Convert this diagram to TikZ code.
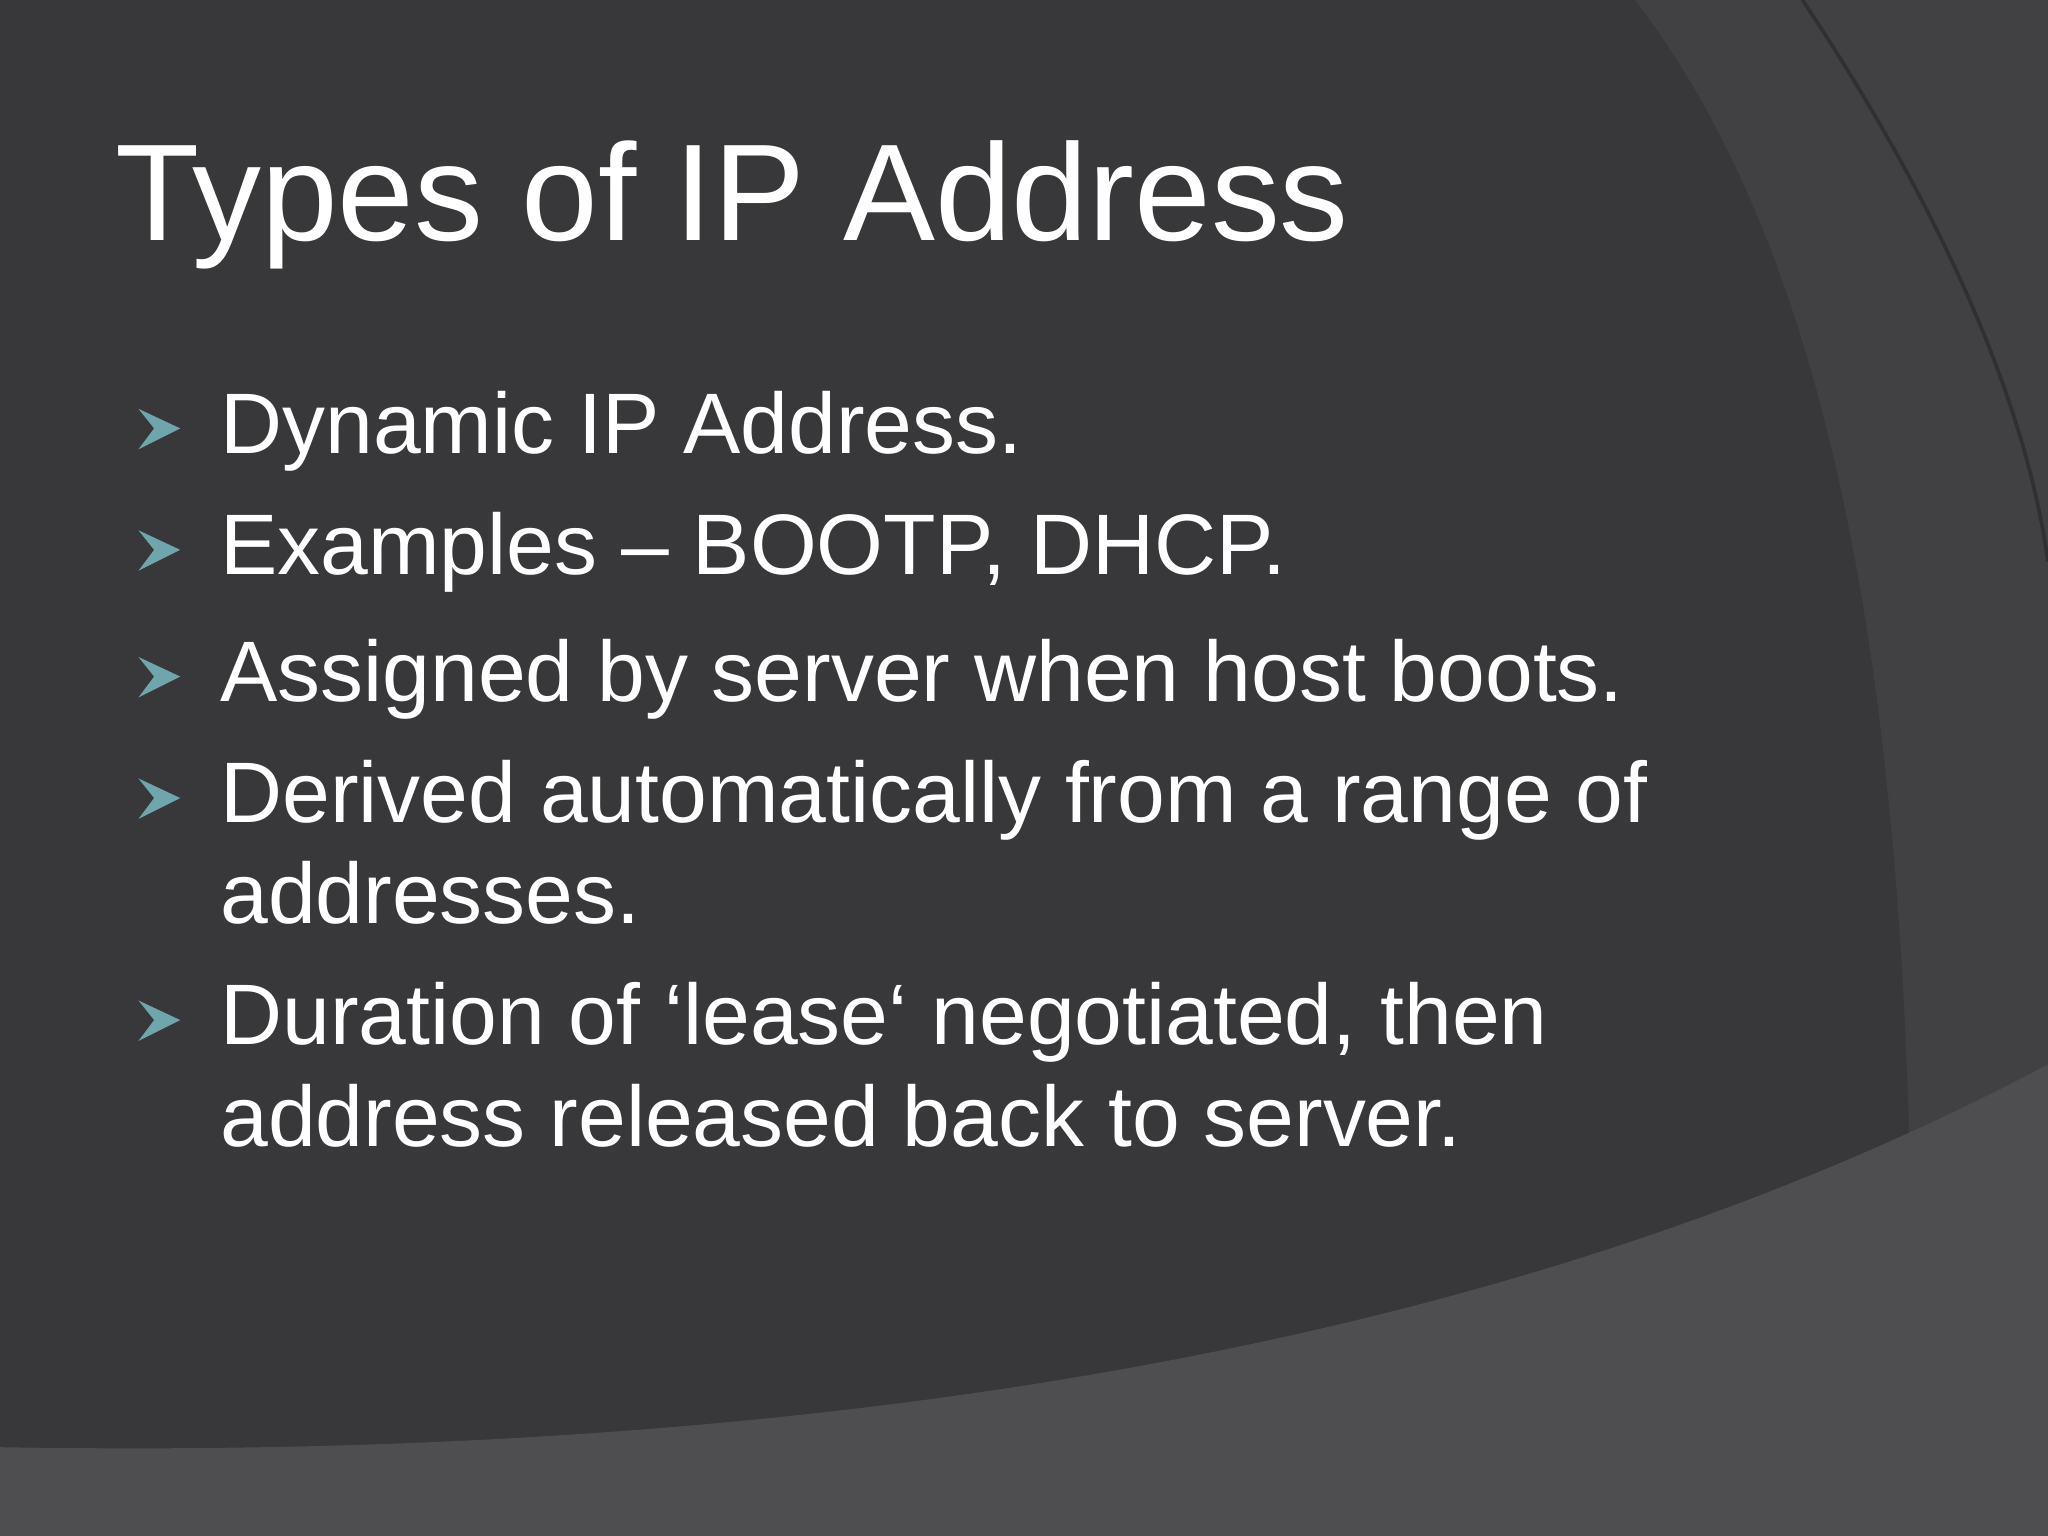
\documentclass[tikz,border=0pt]{standalone}
\usepackage{fontspec}
\setmainfont{Liberation Sans}
\definecolor{bgA}{HTML}{38383A}
\definecolor{bgB}{HTML}{414143}
\definecolor{bgC}{HTML}{4E4E50}
\definecolor{teal}{HTML}{6FA6AE}
\begin{document}
\begin{tikzpicture}[x=0.01cm,y=-0.01cm,
  line/.style={anchor=base west,text=white,font=\fontsize{18.7pt}{22pt}\selectfont,inner sep=0},
  bul/.style={fill=teal,draw=none}]
\useasboundingbox (0,0) rectangle (1568,1176);
\fill[bgA] (0,0) rectangle (1568,1176);
\fill[bgB] (1252,0) .. controls (1420,220) and (1475,600) .. (1462,1176) -- (1568,1176) -- (1568,0) -- cycle;
\draw[bgA!85!black, line width=0.8pt] (1380,0) .. controls (1480,150) and (1550,300) .. (1568,430);
\fill[bgC] (0,1108) .. controls (700,1120) and (1200,1010) .. (1568,815) -- (1568,1176) -- (0,1176) -- cycle;
\node[anchor=base west,text=white,font=\fontsize{30pt}{34pt}\selectfont,inner sep=0] (title) at (88,184) {Types of IP Address};
\foreach \y in {347,440,537,630,800}{
  \fill[bul] (106,\y-34) -- (138,\y-19) -- (106,\y-3) -- (118,\y-19) -- cycle;
}
\node[line] (l1) at (168,347) {Dynamic IP Address.};
\node[line] (l2) at (168,440) {Examples – BOOTP, DHCP.};
\node[line] (l3) at (168,537) {Assigned by server when host boots.};
\node[line] (l4) at (168,630) {Derived automatically from a range of};
\node[line] (l4b) at (168,707) {addresses.};
\node[line] (l5) at (168,800) {Duration of \char"60 lease\char"60{} negotiated, then};
\node[line] (l5b) at (168,878) {address released back to server.};
\end{tikzpicture}
\end{document}
